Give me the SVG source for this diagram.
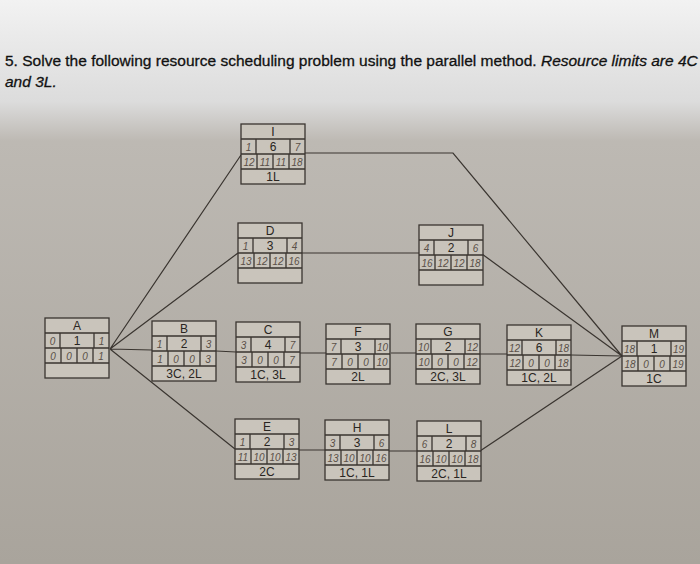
<svg xmlns="http://www.w3.org/2000/svg" width="700" height="564" viewBox="0 0 700 564">
<defs>
<linearGradient id="bg" x1="0" y1="0" x2="0" y2="1">
<stop offset="0" stop-color="#f2f2f2"/><stop offset="0.18" stop-color="#dcdcdc"/><stop offset="0.25" stop-color="#bdb9b3"/><stop offset="1" stop-color="#a9a49c"/>
</linearGradient>
<g id="box" fill="none" stroke="#3a3530" stroke-width="1.3">
<rect x="0" y="0" width="64" height="60" fill="#c9c4bb"/>
<path d="M0 15H64M0 30H64M0 45H64M15 15V30M49 15V30M16 30V45M32 30V45M48 30V45"/>
</g>
<style>
.t{font-family:"Liberation Sans",Arial,sans-serif;font-size:12px;fill:#2a2622;text-anchor:middle}
.h{font-family:"Liberation Sans",Arial,sans-serif;font-size:10px;fill:#5a5048;text-anchor:middle;font-style:italic}
.c{stroke:#3a3530;stroke-width:1.2;fill:none}
</style>
</defs>
<rect width="700" height="564" fill="url(#bg)"/>
<text x="5" y="66" font-family="Liberation Sans,Arial,sans-serif" font-size="15.5" fill="#111" stroke="#111" stroke-width="0.3">5.  Solve the following resource scheduling problem using the parallel method. <tspan font-style="italic">Resource limits are 4C</tspan></text>
<text x="5" y="87" font-family="Liberation Sans,Arial,sans-serif" font-size="15.5" font-style="italic" fill="#111" stroke="#111" stroke-width="0.3">and 3L.</text>
<g id="connectors" class="c">
<path d="M110 349L152 350M110 349L241 155M110 349L238 253M110 349L235 449"/>
<path d="M216 351L236 352M300 353L326 353M391 353L416 353M480 354L507 354M571 355L622 356"/>
<path d="M304 153H453L622 356M301 253H419M482 254L622 356"/>
<path d="M298 450L325 450M389 451L417 451M480 451L622 356"/>
</g>
<g id="A" transform="translate(45,318)"><use href="#box"/><text class="t" x="32" y="12">A</text><text class="h" x="7.5" y="27">0</text><text class="t" x="32" y="27">1</text><text class="h" x="56.5" y="27">1</text><text class="h" x="8" y="42">0</text><text class="h" x="24" y="42">0</text><text class="h" x="40" y="42">0</text><text class="h" x="56" y="42">1</text></g>
<g id="B" transform="translate(152,321)"><use href="#box"/><text class="t" x="32" y="12">B</text><text class="h" x="7.5" y="27">1</text><text class="t" x="32" y="27">2</text><text class="h" x="56.5" y="27">3</text><text class="h" x="8" y="42">1</text><text class="h" x="24" y="42">0</text><text class="h" x="40" y="42">0</text><text class="h" x="56" y="42">3</text><text class="t" x="32" y="57">3C, 2L</text></g>
<g id="C" transform="translate(236,322)"><use href="#box"/><text class="t" x="32" y="12">C</text><text class="h" x="7.5" y="27">3</text><text class="t" x="32" y="27">4</text><text class="h" x="56.5" y="27">7</text><text class="h" x="8" y="42">3</text><text class="h" x="24" y="42">0</text><text class="h" x="40" y="42">0</text><text class="h" x="56" y="42">7</text><text class="t" x="32" y="57">1C, 3L</text></g>
<g id="F" transform="translate(326,324)"><use href="#box"/><text class="t" x="32" y="12">F</text><text class="h" x="7.5" y="27">7</text><text class="t" x="32" y="27">3</text><text class="h" x="56.5" y="27">10</text><text class="h" x="8" y="42">7</text><text class="h" x="24" y="42">0</text><text class="h" x="40" y="42">0</text><text class="h" x="56" y="42">10</text><text class="t" x="32" y="57">2L</text></g>
<g id="G" transform="translate(416,324)"><use href="#box"/><text class="t" x="32" y="12">G</text><text class="h" x="7.5" y="27">10</text><text class="t" x="32" y="27">2</text><text class="h" x="56.5" y="27">12</text><text class="h" x="8" y="42">10</text><text class="h" x="24" y="42">0</text><text class="h" x="40" y="42">0</text><text class="h" x="56" y="42">12</text><text class="t" x="32" y="57">2C, 3L</text></g>
<g id="K" transform="translate(507,325)"><use href="#box"/><text class="t" x="32" y="12">K</text><text class="h" x="7.5" y="27">12</text><text class="t" x="32" y="27">6</text><text class="h" x="56.5" y="27">18</text><text class="h" x="8" y="42">12</text><text class="h" x="24" y="42">0</text><text class="h" x="40" y="42">0</text><text class="h" x="56" y="42">18</text><text class="t" x="32" y="57">1C, 2L</text></g>
<g id="M" transform="translate(622,326)"><use href="#box"/><text class="t" x="32" y="12">M</text><text class="h" x="7.5" y="27">18</text><text class="t" x="32" y="27">1</text><text class="h" x="56.5" y="27">19</text><text class="h" x="8" y="42">18</text><text class="h" x="24" y="42">0</text><text class="h" x="40" y="42">0</text><text class="h" x="56" y="42">19</text><text class="t" x="32" y="57">1C</text></g>
<g id="I" transform="translate(241,124)"><use href="#box"/><text class="t" x="32" y="12">I</text><text class="h" x="7.5" y="27">1</text><text class="t" x="32" y="27">6</text><text class="h" x="56.5" y="27">7</text><text class="h" x="8" y="42">12</text><text class="h" x="24" y="42">11</text><text class="h" x="40" y="42">11</text><text class="h" x="56" y="42">18</text><text class="t" x="32" y="57">1L</text></g>
<g id="D" transform="translate(238,223)"><use href="#box"/><text class="t" x="32" y="12">D</text><text class="h" x="7.5" y="27">1</text><text class="t" x="32" y="27">3</text><text class="h" x="56.5" y="27">4</text><text class="h" x="8" y="42">13</text><text class="h" x="24" y="42">12</text><text class="h" x="40" y="42">12</text><text class="h" x="56" y="42">16</text></g>
<g id="J" transform="translate(419,225)"><use href="#box"/><text class="t" x="32" y="12">J</text><text class="h" x="7.5" y="27">4</text><text class="t" x="32" y="27">2</text><text class="h" x="56.5" y="27">6</text><text class="h" x="8" y="42">16</text><text class="h" x="24" y="42">12</text><text class="h" x="40" y="42">12</text><text class="h" x="56" y="42">18</text></g>
<g id="E" transform="translate(235,419)"><use href="#box"/><text class="t" x="32" y="12">E</text><text class="h" x="7.5" y="27">1</text><text class="t" x="32" y="27">2</text><text class="h" x="56.5" y="27">3</text><text class="h" x="8" y="42">11</text><text class="h" x="24" y="42">10</text><text class="h" x="40" y="42">10</text><text class="h" x="56" y="42">13</text><text class="t" x="32" y="57">2C</text></g>
<g id="H" transform="translate(325,420)"><use href="#box"/><text class="t" x="32" y="12">H</text><text class="h" x="7.5" y="27">3</text><text class="t" x="32" y="27">3</text><text class="h" x="56.5" y="27">6</text><text class="h" x="8" y="42">13</text><text class="h" x="24" y="42">10</text><text class="h" x="40" y="42">10</text><text class="h" x="56" y="42">16</text><text class="t" x="32" y="57">1C, 1L</text></g>
<g id="L" transform="translate(417,421)"><use href="#box"/><text class="t" x="32" y="12">L</text><text class="h" x="7.5" y="27">6</text><text class="t" x="32" y="27">2</text><text class="h" x="56.5" y="27">8</text><text class="h" x="8" y="42">16</text><text class="h" x="24" y="42">10</text><text class="h" x="40" y="42">10</text><text class="h" x="56" y="42">18</text><text class="t" x="32" y="57">2C, 1L</text></g>
</svg>
